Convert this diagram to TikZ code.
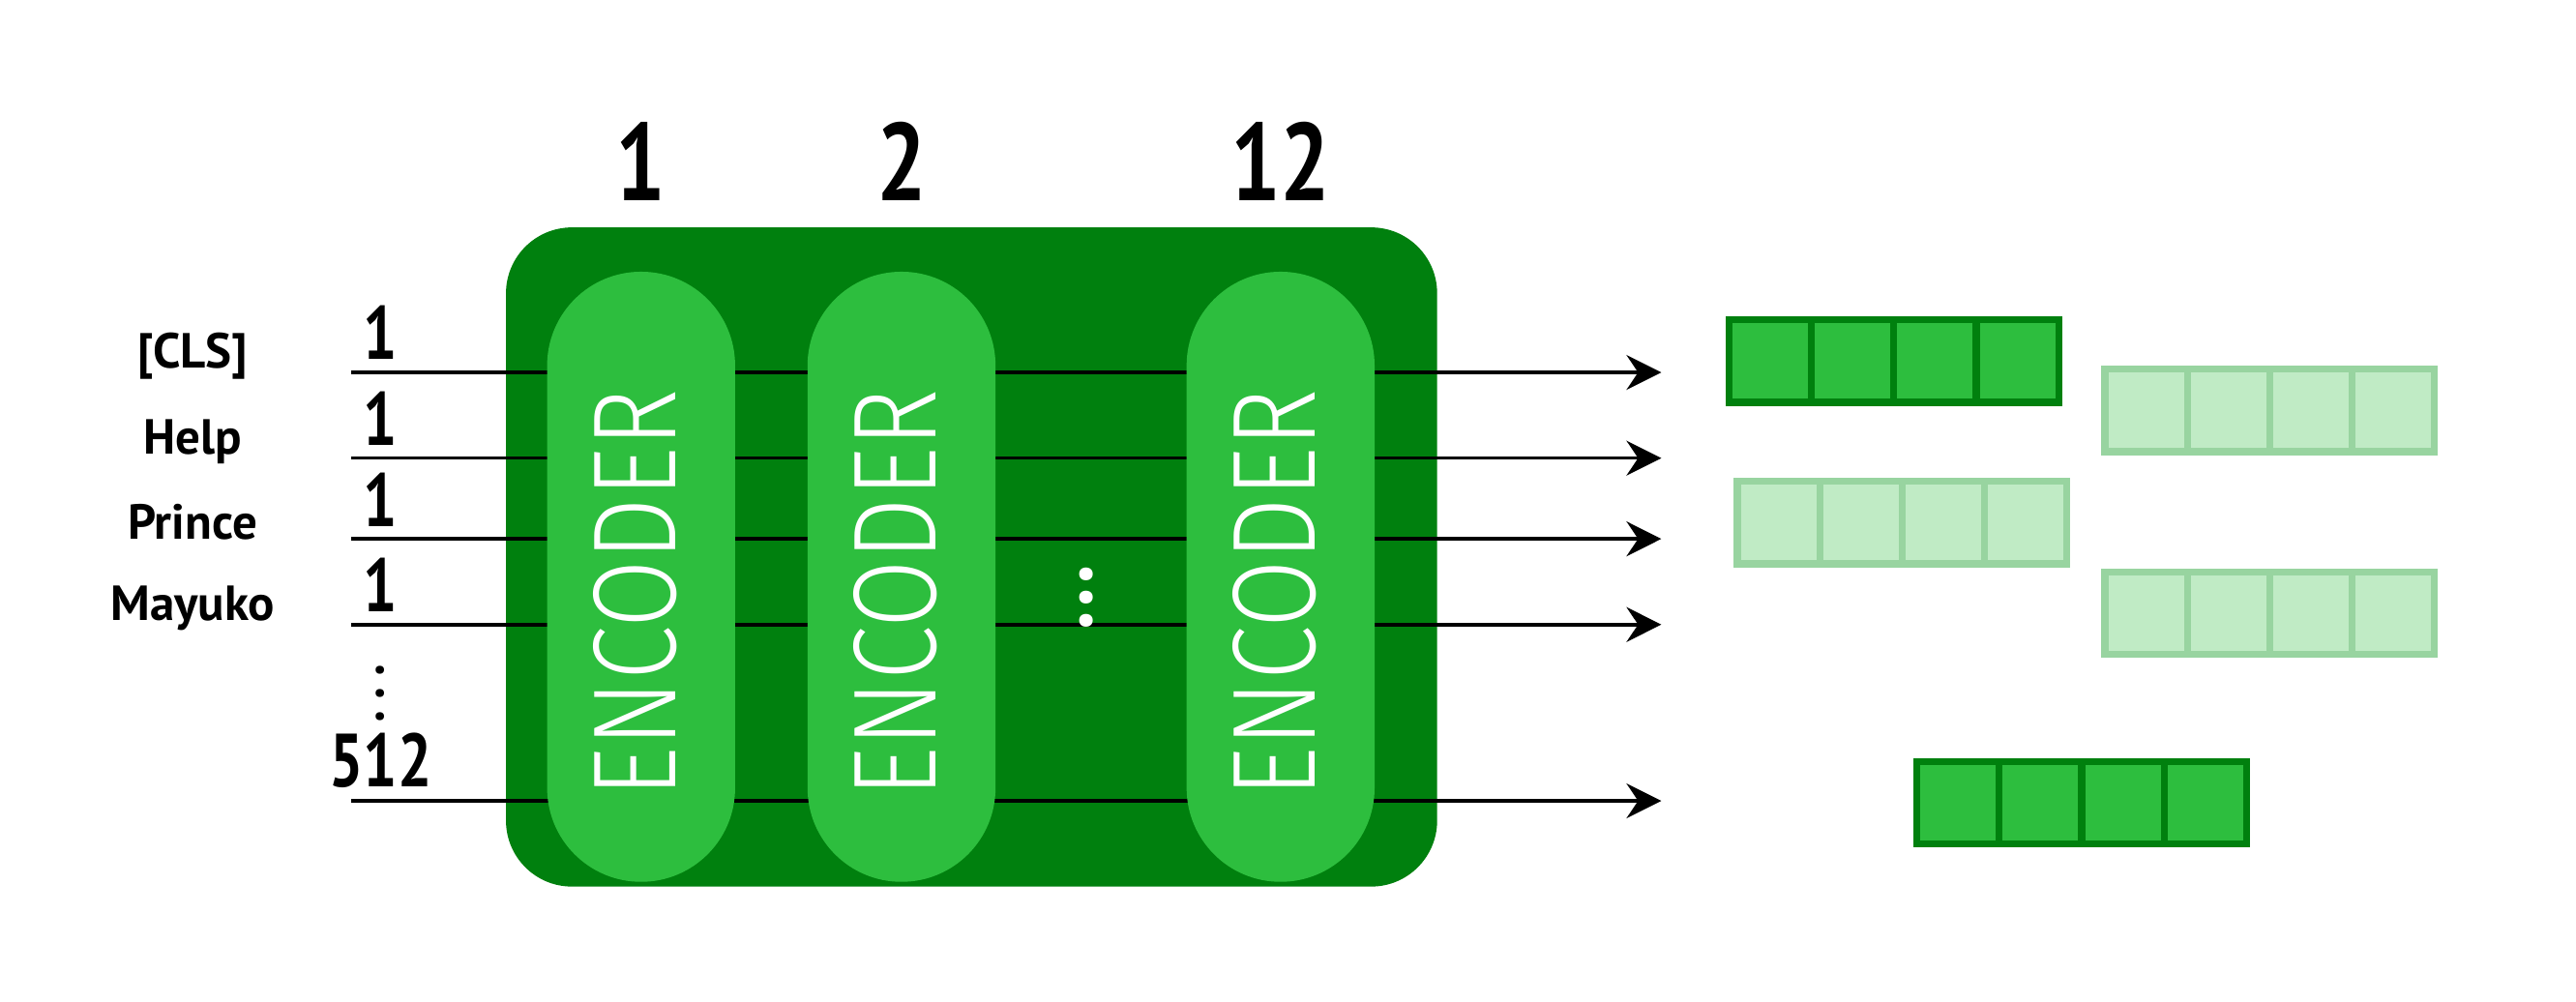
\documentclass[tikz,border=0pt]{standalone}
\usepackage{fontspec}
\setmainfont{PT Sans}
\newfontfamily\encfont{Fira Sans Light}
\usetikzlibrary{arrows.meta}
\definecolor{darkgr}{HTML}{00800E}
\definecolor{midgr}{HTML}{2DBE3E}
\definecolor{lightgr}{HTML}{C0EBC5}
\definecolor{lightedge}{HTML}{98D4A0}
\begin{document}
\begin{tikzpicture}[x=0.01cm,y=-0.01cm]
        \tikzstyle{line} = [-{Stealth[length=6pt,width=6pt,inset=2pt]}, line width=0.6pt]
        \tikzstyle{enc} = [rectangle, rounded corners=0.569cm, fill=midgr, minimum width=1.14cm, minimum height=3.7cm, inner sep=0pt]
        \tikzstyle{lbl} = [font=\bfseries\fontsize{8.5}{10}\selectfont, inner sep=0pt]
        \tikzstyle{num} = [font=\bfseries\fontsize{13}{15}\selectfont, xscale=0.8, inner sep=0pt]
        \tikzstyle{big} = [font=\bfseries\fontsize{19}{21}\selectfont, xscale=0.8, inner sep=0pt]
        \tikzstyle{cell} = [rectangle, minimum width=0.5cm, minimum height=0.5cm, line width=1.2pt, inner sep=0pt]
        \tikzstyle{vecd} = [cell, fill=midgr, draw=darkgr]
        \tikzstyle{vecl} = [cell, fill=lightgr, draw=lightedge]

        \useasboundingbox (0,0) rectangle (1563,608);
        \fill[darkgr, rounded corners=0.4cm] (307,138) rectangle (872,538);

        % inputs and outputs
        \foreach \n/\y/\t/\c in {a/226/[CLS]/1, b/278/Help/1, c/327/Prince/1, d/379/Mayuko/1, e/486//512} {
            \coordinate(in\n) at (213,\y);
            \coordinate(out\n) at (1008,\y);
            \node(tok\n) [lbl] at (117,\y-10) {\t};
            \node(pos\n) [num, anchor=south] at (231,\y-7) {\c};
            \draw[line] (in\n) -- (out\n);
        }
        \node(posdots) [inner sep=0pt] at (231,410) {\small\bfseries$\vdots$};

        \node(enca) [enc] at (389,350) {};
        \node(encb) [enc] at (547,350) {};
        \node(encl) [enc] at (777,350) {};
        \foreach \e in {enca,encb,encl}
            \node[rotate=90, text=white, font=\encfont\fontsize{17}{19}\selectfont, yscale=1.2, inner sep=0pt] at ([xshift=-1pt,yshift=-0.1cm]\e) {ENCODER};

        \node(topa) [big] at (389,98) {1};
        \node(topb) [big] at (547,98) {2};
        \node(topl) [big] at (777,98) {12};
        \node(mdots) [text=white, inner sep=0pt] at (659,352) {\Large\bfseries$\vdots$};

        % vectors
        \foreach \x/\y/\s in {1047/192/vecd, 1275/222/vecl, 1052/290/vecl, 1275/345/vecl, 1161/460/vecd}
            \foreach \k in {0,...,3}
                \node(v\x\k) [\s, anchor=north west] at (\x+\k*50,\y) {};
\end{tikzpicture}
\end{document}
